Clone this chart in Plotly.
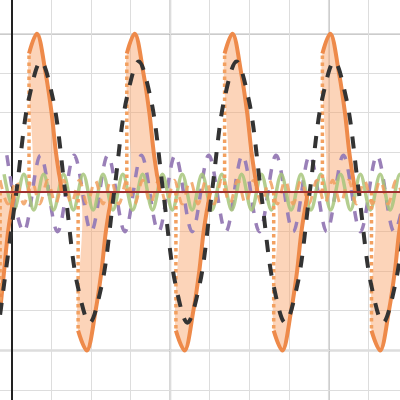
import plotly.graph_objects as go

# orange lobes: each lobe = jump point, extremum, shoulder points, back to zero
lobe_x = [[-0.3, -0.2, -0.1, 0.06],
          [0.43, 0.63, 0.85, 1.0, 1.11, 1.26],
          [1.67, 1.89, 2.11, 2.26, 2.37, 2.53],
          [2.90, 3.10, 3.32, 3.47, 3.58, 3.73],
          [4.14, 4.36, 4.58, 4.73, 4.84, 5.00],
          [5.37, 5.57, 5.79, 5.94, 6.05, 6.20],
          [6.61, 6.83, 7.05, 7.20, 7.31, 7.47],
          [7.84, 8.04, 8.26, 8.41, 8.52, 8.67],
          [9.08, 9.30, 9.52, 9.67, 9.78, 9.94]]
lobe_y = [[-3.0, -2.0, -1.0, 0],
          [3.5, 4, 3.0, 2.0, 1.0, 0],
          [-3.5, -4, -3.0, -2.0, -1.0, 0],
          [3.5, 4, 3.0, 2.0, 1.0, 0],
          [-3.5, -4, -3.0, -2.0, -1.0, 0],
          [3.5, 4, 3.0, 2.0, 1.0, 0],
          [-3.5, -4, -3.0, -2.0, -1.0, 0],
          [3.5, 4, 3.0, 2.0, 1.0, 0],
          [-3.5, -4, -3.0, -2.0, -1.0, 0]]

# black dashed wave
black_x = [-0.3, -0.2, 0.11, 0.42, 0.73, 1.04, 1.345, 1.65, 1.96, 2.27, 2.58, 2.89, 3.20, 3.51,
           3.82, 4.13, 4.43, 4.74, 5.05, 5.36, 5.67, 5.98, 6.29, 6.60, 6.90, 7.21, 7.52,
           7.83, 8.14, 8.45, 8.76, 9.07, 9.37, 9.68, 9.99]
black_y = [-3.1, -2.33, 0, 2.33, 3.3, 2.33, 0, -2.33, -3.3, -2.33, 0, 2.33, 3.3, 2.33,
           0, -2.33, -3.3, -2.33, 0, 2.33, 3.3, 2.33, 0, -2.33, -3.3, -2.33, 0,
           2.33, 3.3, 2.33, 0, -2.33, -3.3, -2.33, 0]

# purple dashed ripple
purple_x = [-0.13, 0.3, 0.72, 1.15, 1.57, 2.0, 2.42, 2.85, 3.27, 3.7, 4.12, 4.55, 4.97,
            5.4, 5.82, 6.25, 6.67, 7.1, 7.52, 7.95, 8.37, 8.8, 9.22, 9.65, 10.07]
purple_y = [0.93, -1.0, 0.93, -1.0, 0.93, -1.0, 0.93, -1.0, 0.93, -1.0, 0.93, -1.0, 0.93,
            -1.0, 0.93, -1.0, 0.93, -1.0, 0.93, -1.0, 0.93, -1.0, 0.93, -1.0, 0.93]

# green ripple
green_x = [-0.2, 0.05, 0.3, 0.55, 0.8, 1.05, 1.3, 1.55, 1.8, 2.05, 2.3, 2.55, 2.8, 3.05,
           3.3, 3.55, 3.8, 4.05, 4.3, 4.55, 4.8, 5.05, 5.3, 5.55, 5.8, 6.05, 6.3, 6.55,
           6.8, 7.05, 7.3, 7.55, 7.8, 8.05, 8.3, 8.55, 8.8, 9.05, 9.3, 9.55, 9.8, 10.05]
green_y = [0.45, -0.45, 0.45, -0.45, 0.45, -0.45, 0.45, -0.45, 0.45, -0.45, 0.45, -0.45, 0.45, -0.45,
           0.45, -0.45, 0.45, -0.45, 0.45, -0.45, 0.45, -0.45, 0.45, -0.45, 0.45, -0.45, 0.45, -0.45,
           0.45, -0.45, 0.45, -0.45, 0.45, -0.45, 0.45, -0.45, 0.45, -0.45, 0.45, -0.45, 0.45, -0.45]

# small light-orange ripple
small_x = [-0.3, -0.1, 0.1, 0.3, 0.5, 0.7, 0.9, 1.1, 1.3, 1.5, 1.7, 1.9, 2.1, 2.3, 2.5, 2.7,
           2.9, 3.1, 3.3, 3.5, 3.7, 3.9, 4.1, 4.3, 4.5, 4.7, 4.9, 5.1, 5.3, 5.5, 5.7, 5.9,
           6.1, 6.3, 6.5, 6.7, 6.9, 7.1, 7.3, 7.5, 7.7, 7.9, 8.1, 8.3, 8.5, 8.7, 8.9, 9.1,
           9.3, 9.5, 9.7, 9.9]
small_y = [0.3, -0.3, 0.3, -0.3, 0.3, -0.3, 0.3, -0.3, 0.3, -0.3, 0.3, -0.3, 0.3, -0.3, 0.3, -0.3,
           0.3, -0.3, 0.3, -0.3, 0.3, -0.3, 0.3, -0.3, 0.3, -0.3, 0.3, -0.3, 0.3, -0.3, 0.3, -0.3,
           0.3, -0.3, 0.3, -0.3, 0.3, -0.3, 0.3, -0.3, 0.3, -0.3, 0.3, -0.3, 0.3, -0.3, 0.3, -0.3,
           0.3, -0.3, 0.3, -0.3]

# build fill path, solid segments and dotted jump lines from the lobes
fill_x, fill_y, solid_x, solid_y, jump_x, jump_y = [], [], [], [], [], []
for lx, ly in zip(lobe_x, lobe_y):
    fill_x += [lx[0]] + lx
    fill_y += [0] + ly
    solid_x += lx + [None]
    solid_y += ly + [None]
    jump_x += [lx[0], lx[0], None]
    jump_y += [0, ly[0], None]

fig = go.Figure()
fig.add_trace(go.Scatter(x=fill_x, y=fill_y, mode='lines', line_shape='spline', fill='toself',
                         fillcolor='rgba(248,160,100,0.45)', line=dict(width=0)))
fig.add_trace(go.Scatter(x=purple_x, y=purple_y, mode='lines', line_shape='spline',
                         line=dict(color='#9a80b8', width=3.5, dash='dash')))
fig.add_trace(go.Scatter(x=green_x, y=green_y, mode='lines', line_shape='spline', opacity=0.85,
                         line=dict(color='#a8c67c', width=3.5)))
fig.add_trace(go.Scatter(x=small_x, y=small_y, mode='lines', line_shape='spline', opacity=0.85,
                         line=dict(color='#f2a060', width=3, dash='dash')))
fig.add_trace(go.Scatter(x=solid_x, y=solid_y, mode='lines', line_shape='spline',
                         line=dict(color='#ee8a4a', width=4)))
fig.add_trace(go.Scatter(x=jump_x, y=jump_y, mode='lines',
                         line=dict(color='#f2a060', width=3.5, dash='dot')))
fig.add_trace(go.Scatter(x=black_x, y=black_y, mode='lines', line_shape='spline',
                         line=dict(color='#333333', width=4, dash='dash')))
fig.add_trace(go.Scatter(x=[-0.3, 9.9], y=[0, 0], mode='lines',
                         line=dict(color='#a03030', width=2)))

for v in [4, 8]:
    fig.add_vline(x=v, line=dict(color='#999999', width=1.5), layer='below')
for h in [4, -4]:
    fig.add_hline(y=h, line=dict(color='#999999', width=1.5), layer='below')

fig.update_layout(autosize=True, margin=dict(l=0, r=0, t=0, b=0),
                  plot_bgcolor='white', paper_bgcolor='white', showlegend=False)
fig.update_xaxes(range=[-0.303, 9.8], dtick=1, gridcolor='#dddddd', gridwidth=1.2,
                 zeroline=True, zerolinecolor='#222222', zerolinewidth=2, showticklabels=False)
fig.update_yaxes(range=[-5.25, 4.85], dtick=1, gridcolor='#dddddd', gridwidth=1.2,
                 zeroline=True, zerolinecolor='#222222', zerolinewidth=2, showticklabels=False)

fig.write_html("out.html", default_width="100vw", default_height="100vh",
               config={'displayModeBar': False},
               post_script="document.body.style.margin='0';Plotly.Plots.resize(document.getElementById('{plot_id}'));")
